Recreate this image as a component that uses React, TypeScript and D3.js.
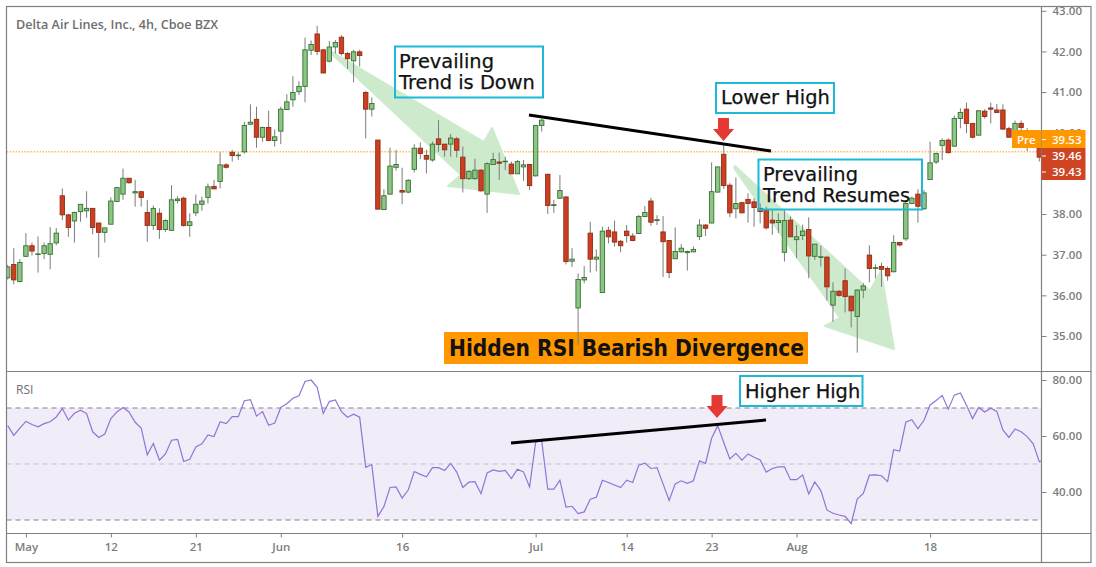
import * as d3 from "d3";
import { useEffect, useRef } from "react";

// candles, one row = 10 bars
const opens = [
  36.43, 36.76, 36.34, 36.96, 37.22, 37.01, 37.03, 37.01, 37.29, 38.45,
  37.98, 37.83, 38.06, 38.08, 38.14, 37.78, 37.55, 37.75, 38.31, 38.49,
  38.88, 38.52, 38.55, 38.04, 37.72, 38.02, 37.62, 37.60, 38.33, 38.39,
  37.72, 38.03, 38.24, 38.41, 38.68, 38.80, 39.21, 39.52, 39.44, 39.53,
  40.21, 40.33, 39.89, 40.13, 39.81, 40.04, 40.57, 40.81, 41.01, 41.14,
  42.03, 42.43, 42.04, 41.76, 42.11, 42.35, 41.95, 41.77, 41.99, 40.99,
  40.58, 39.82, 38.11, 38.49, 39.15, 38.58, 38.54, 39.10, 39.62, 39.44,
  39.33, 39.85, 39.72, 39.72, 39.85, 39.40, 38.87, 38.87, 39.08, 38.49,
  39.22, 39.28, 39.29, 39.23, 38.99, 39.16, 39.22, 38.94, 40.18, 38.98,
  38.21, 38.39, 38.42, 36.84, 35.69, 36.38, 37.53, 36.89, 36.07, 37.60,
  37.56, 37.33, 37.58, 37.46, 37.52, 37.94, 38.32, 37.84, 37.56, 37.35,
  36.90, 37.07, 37.05, 37.07, 37.45, 37.73, 37.78, 38.54, 39.47, 38.71,
  38.13, 38.28, 38.36, 38.30, 38.14, 38.10, 37.85, 37.79, 37.06, 37.85,
  37.37, 37.47, 37.62, 36.96, 36.94, 36.94, 35.76, 36.10, 36.36, 35.98,
  35.48, 36.13, 36.99, 36.66, 36.71, 36.66, 36.58, 37.30, 37.39, 38.26,
  38.49, 38.13, 38.85, 39.28, 39.69, 39.82, 39.67, 40.35, 40.58, 40.23,
  39.94, 40.53, 40.61, 40.56, 40.56, 40.10, 40.00, 40.23, 40.03, 39.78,
  39.62,
];
const highs = [
  36.75, 37.16, 36.89, 37.53, 37.30, 37.45, 37.30, 37.68, 37.66, 38.63,
  38.00, 38.06, 38.24, 38.56, 38.14, 37.78, 37.66, 38.41, 38.67, 39.12,
  38.89, 38.84, 38.57, 38.35, 38.21, 38.14, 37.87, 38.71, 38.44, 38.43,
  38.02, 38.48, 38.43, 38.75, 38.84, 39.52, 39.25, 39.58, 39.52, 40.27,
  40.70, 40.64, 40.15, 40.54, 40.08, 40.64, 40.95, 41.39, 41.27, 42.34,
  42.27, 42.63, 42.04, 42.26, 42.28, 42.40, 41.99, 42.04, 42.04, 41.03,
  40.87, 39.82, 38.61, 39.63, 39.58, 39.14, 38.86, 39.72, 39.76, 39.58,
  39.78, 40.31, 39.72, 39.97, 39.90, 39.66, 39.08, 39.36, 39.10, 39.27,
  39.51, 39.51, 39.41, 39.29, 39.33, 39.33, 39.22, 40.19, 40.35, 38.98,
  38.35, 38.96, 38.44, 37.16, 36.54, 36.72, 37.81, 37.13, 37.69, 37.69,
  37.84, 37.36, 37.73, 37.53, 37.98, 38.20, 38.40, 37.97, 37.95, 37.36,
  37.67, 37.26, 37.10, 37.20, 37.87, 37.75, 39.27, 39.16, 39.70, 38.76,
  38.90, 38.30, 38.51, 38.39, 38.26, 38.18, 38.10, 38.02, 38.10, 37.94,
  37.73, 37.74, 37.92, 37.26, 37.22, 36.97, 36.32, 36.13, 36.66, 35.98,
  36.15, 36.30, 37.23, 36.76, 36.80, 36.71, 37.48, 37.32, 38.30, 38.43,
  38.61, 38.59, 39.78, 39.51, 39.86, 39.86, 40.42, 40.60, 40.74, 40.23,
  40.56, 40.58, 40.74, 40.71, 40.70, 40.15, 40.30, 40.30, 40.11, 39.86,
  39.62,
];
const lows = [
  36.39, 36.27, 36.32, 36.95, 36.98, 36.56, 36.89, 36.64, 37.23, 37.85,
  37.44, 37.30, 37.81, 37.91, 37.50, 36.93, 37.30, 37.75, 38.31, 38.35,
  38.75, 38.18, 38.18, 37.32, 37.61, 37.39, 37.56, 37.59, 38.26, 37.69,
  37.44, 37.95, 38.08, 38.26, 38.61, 38.63, 39.12, 39.29, 39.33, 39.49,
  40.19, 39.63, 39.78, 39.80, 39.66, 39.72, 40.56, 40.64, 40.93, 40.75,
  41.91, 41.91, 41.47, 41.73, 41.95, 41.90, 41.57, 41.24, 41.63, 39.86,
  40.40, 38.12, 38.10, 38.49, 39.07, 38.24, 38.51, 39.02, 39.35, 39.00,
  39.29, 39.53, 39.41, 39.41, 39.39, 38.53, 38.84, 38.84, 38.55, 38.03,
  39.22, 38.84, 39.08, 38.99, 38.99, 38.82, 38.59, 38.92, 40.03, 38.00,
  38.03, 38.37, 36.76, 36.70, 34.78, 36.30, 36.56, 36.59, 36.07, 37.28,
  37.20, 37.06, 37.30, 37.33, 37.51, 37.92, 37.71, 37.73, 36.45, 36.42,
  36.89, 37.05, 36.61, 37.06, 37.36, 37.46, 37.77, 38.53, 38.62, 37.92,
  37.89, 38.02, 37.79, 37.69, 37.77, 37.62, 37.49, 37.53, 36.83, 37.44,
  36.91, 37.36, 36.42, 36.87, 36.71, 35.87, 35.35, 35.97, 35.58, 35.21,
  34.59, 35.93, 36.32, 36.42, 36.21, 36.36, 36.57, 37.20, 37.34, 38.25,
  37.79, 38.10, 38.84, 39.23, 39.33, 39.49, 39.66, 40.11, 39.99, 39.86,
  39.94, 40.35, 40.23, 40.48, 40.07, 39.88, 39.86, 39.99, 39.55, 39.62,
  39.29,
];
const closes = [
  36.70, 36.38, 36.81, 37.22, 37.09, 37.02, 37.22, 37.27, 37.53, 37.98,
  37.67, 38.04, 38.24, 38.14, 37.67, 37.55, 37.66, 38.32, 38.65, 38.88,
  38.77, 38.55, 38.41, 37.72, 38.14, 37.62, 37.84, 38.35, 38.37, 37.72,
  37.81, 38.24, 38.32, 38.67, 38.62, 39.21, 39.15, 39.44, 39.45, 40.18,
  40.26, 39.89, 40.13, 39.81, 39.90, 40.58, 40.76, 40.99, 41.14, 42.04,
  42.17, 42.00, 41.47, 42.11, 42.22, 41.95, 41.82, 41.99, 41.90, 40.58,
  40.72, 38.12, 38.45, 39.18, 39.22, 38.54, 38.83, 39.62, 39.49, 39.35,
  39.72, 39.71, 39.58, 39.87, 39.57, 38.87, 39.05, 39.08, 38.57, 39.24,
  39.34, 39.25, 39.30, 38.99, 39.29, 39.21, 38.70, 40.18, 40.31, 38.21,
  38.23, 38.58, 36.83, 36.89, 36.39, 36.44, 36.89, 36.94, 37.58, 37.44,
  37.31, 37.22, 37.47, 37.35, 37.94, 38.04, 37.80, 37.86, 37.32, 36.56,
  37.08, 37.16, 37.08, 37.13, 37.73, 37.65, 38.55, 39.16, 38.70, 38.03,
  38.26, 38.03, 38.26, 38.16, 38.06, 37.66, 37.78, 37.84, 37.84, 37.44,
  37.44, 37.58, 36.97, 37.26, 36.95, 36.21, 36.10, 36.00, 35.97, 35.62,
  36.13, 36.23, 36.66, 36.68, 36.64, 36.48, 37.30, 37.24, 38.26, 38.39,
  38.19, 38.52, 39.26, 39.49, 39.81, 39.51, 40.35, 40.50, 40.23, 39.89,
  40.54, 40.40, 40.58, 40.50, 40.09, 39.89, 40.23, 40.13, 39.78, 39.64,
  39.40,
];

const rsiValues = [
  63.7, 60.2, 62.8, 65.2, 64.1, 63.3, 64.4, 65.1, 66.8, 69.8,
  65.7, 68.1, 69.2, 68.0, 61.5, 59.5, 60.7, 66.2, 68.6, 70.2,
  68.6, 64.9, 62.8, 53.3, 57.3, 51.4, 53.6, 58.5, 58.8, 50.9,
  51.7, 56.1, 57.2, 60.4, 59.8, 65.1, 64.4, 66.9, 66.9, 72.6,
  73.0, 67.1, 68.7, 63.8, 64.6, 70.2, 71.5, 73.5, 74.4, 79.5,
  80.0, 77.4, 68.0, 72.3, 72.9, 68.7, 66.7, 67.8, 66.7, 48.8,
  49.8, 31.3, 34.8, 41.6, 41.8, 37.8, 40.7, 47.3, 46.3, 45.4,
  48.7, 48.7, 47.7, 50.2, 47.1, 41.6, 43.5, 43.7, 39.4, 46.8,
  47.9, 47.4, 47.7, 44.8, 48.1, 47.2, 41.8, 57.8, 58.3, 41.0,
  41.0, 44.2, 34.6, 34.9, 32.3, 32.9, 37.4, 38.1, 44.2, 43.4,
  42.5, 41.6, 44.2, 43.4, 49.6, 50.3, 48.4, 48.7, 42.9, 37.0,
  42.9, 44.0, 43.1, 44.0, 51.1, 50.2, 59.2, 63.7, 57.7, 51.8,
  53.8, 51.4, 53.6, 52.4, 51.4, 47.1, 48.4, 49.0, 49.0, 44.4,
  44.4, 46.1, 39.3, 43.6, 40.5, 33.6, 32.4, 31.8, 31.3, 28.7,
  37.5, 39.5, 46.0, 46.1, 45.8, 43.7, 55.1, 54.6, 64.9, 65.8,
  62.6, 65.6, 71.1, 72.7, 74.5, 69.6, 74.6, 75.4, 71.0, 66.2,
  70.2, 68.6, 69.9, 68.8, 62.2, 59.5, 62.5, 61.5, 59.8, 57.2,
  50.8, 51.7,
];

const priceTicks = [35, 36, 37, 38, 39, 40, 41, 42, 43];
const rsiTicks = [40, 60, 80];
const rsiLevels = [70, 50, 30];
const timeTickBars = [3, 17, 31, 45, 65, 87, 102, 116, 130, 152];
const timeTickLabels = ["May", "12", "21", "Jun", "16", "Jul", "14", "23", "Aug", "18"];

const lastPrice = 39.53;
const WIDTH = 1096;
const HEIGHT = 567;
const LEFT = 6.5;
const AXIS_X = 1041.5;
const RIGHT = 1091;
const TOP = 6.5;
const DIVIDER = 371.5;
const RSI_BOTTOM = 533.5;
const BOTTOM = 562.5;

const UP_FILL = "#8cc585";
const UP_LINE = "#35722f";
const DOWN_FILL = "#cd3f20";
const DOWN_LINE = "#8f2e17";
const ORANGE = "#ff9800";
const CYAN = "#1db9d6";
const ARROW_GREEN = "#cdeacd";
const RED = "#e53935";
const AXIS_FONT = "'Open Sans', sans-serif";
const NOTE_FONT = "'DejaVu Sans', sans-serif";

const x = d3.scaleLinear([0, 170], [7.7, 1039.3]);
const yPrice = d3.scaleLinear([35, 43], [336, 10.8]);
const yRsi = d3.scaleLinear([30, 80], [520, 380]);

function NoteBox({ box, lines }: { box: number[], lines: { text: string, x: number, y: number }[] }) {
  return (
    <g>
      <rect x={box[0]} y={box[1]} width={box[2] - box[0]} height={box[3] - box[1]}
        fill="none" stroke={CYAN} strokeWidth="2" />
      {lines.map((l, i) => (
        <text key={i} x={l.x} y={l.y} fontFamily={NOTE_FONT} fontSize="19.4" fill="#111"
          stroke="#111" strokeWidth="0.25">{l.text}</text>
      ))}
    </g>
  );
}

function RedArrow({ cx, top, tip }: { cx: number, top: number, tip: number }) {
  const neck = top + (tip - top) * 0.48;
  const pts: [number, number][] = [
    [cx - 5.5, top], [cx + 5.5, top], [cx + 5.5, neck], [cx + 10.5, neck],
    [cx, tip], [cx - 10.5, neck], [cx - 5.5, neck],
  ];
  return <path d={`${d3.line()(pts)}Z`} fill={RED} />;
}

export default function App() {
  const axisPrice: any = useRef();
  const axisRsi: any = useRef();
  const axisTime: any = useRef();

  useEffect(() => {
    const style = (g: any) => {
      g.select(".domain").remove();
      g.selectAll(".tick line").attr("stroke", "#808080");
      g.selectAll(".tick text")
        .attr("fill", "#7d7d7d")
        .attr("font-family", AXIS_FONT)
        .attr("font-size", 11.5)
        .attr("font-weight", 600);
    };
    d3.select(axisPrice.current)
      .call(d3.axisRight(yPrice).tickValues(priceTicks).tickFormat(d3.format(".2f") as any).tickSize(5).tickPadding(6) as any)
      .call(style);
    d3.select(axisRsi.current)
      .call(d3.axisRight(yRsi).tickValues(rsiTicks).tickFormat(d3.format(".2f") as any).tickSize(5).tickPadding(6) as any)
      .call(style);
    d3.select(axisTime.current)
      .call(d3.axisBottom(x).tickValues(timeTickBars)
        .tickFormat((_d: any, i: number) => timeTickLabels[i]).tickSize(4).tickPadding(5) as any)
      .call(style);
  }, []);

  const rsiLine = d3.line<number>()
    .x((_d, i) => x(i))
    .y(d => yRsi(d));

  return (
    <svg width={WIDTH} height={HEIGHT} style={{ position: "absolute", left: 0, top: 0 }}>
      <defs>
        <clipPath id="plot">
          <rect x={LEFT} y={TOP} width={AXIS_X - LEFT} height={BOTTOM - TOP} />
        </clipPath>
      </defs>
      <rect width={WIDTH} height={HEIGHT} fill="white" />

      {/* last price line */}
      <line x1={LEFT} x2={AXIS_X} y1={yPrice(lastPrice)} y2={yPrice(lastPrice)}
        stroke={ORANGE} strokeWidth="1" strokeDasharray="1.5 1.5" />

      {/* drawn-on trend arrows */}
      <g fill={ARROW_GREEN} stroke={ARROW_GREEN} strokeWidth="2" strokeLinejoin="round">
        <path d="M332,52 L484,142 L492,128 L519,194 L448,186 L461,175 L332,54 Z" />
        <path d="M735,166 L870,291 L881,271 L894,349 L825,326 L840,318 L734,168 Z" />
      </g>
      <rect x="444" y="332" width="364" height="32" fill={ORANGE} />

      <g clipPath="url(#plot)">
        {opens.map((open, i) => {
          const up = closes[i] >= open;
          const top = yPrice(Math.max(open, closes[i]));
          const bottom = yPrice(Math.min(open, closes[i]));
          return (
            <g key={i}>
              <line x1={x(i)} x2={x(i)} y1={yPrice(highs[i])} y2={yPrice(lows[i])}
                stroke="#7c7c7c" strokeWidth="1" />
              <rect x={x(i) - 2.2} y={top} width="4.4" height={Math.max(bottom - top, 0.6)}
                fill={up ? UP_FILL : DOWN_FILL} stroke={up ? UP_LINE : DOWN_LINE} strokeWidth="0.9" />
            </g>
          );
        })}

        {/* rsi pane */}
        <rect x={LEFT} width={AXIS_X - LEFT} y={yRsi(70)} height={yRsi(30) - yRsi(70)} fill="#f0ecf8" />
        {rsiLevels.map(level => (
          <line key={level} x1={LEFT} x2={AXIS_X} y1={yRsi(level)} y2={yRsi(level)}
            stroke={level === 50 ? "#c4bfcc" : "#85808e"} strokeWidth="1" strokeDasharray="5 4" />
        ))}
        <path d={rsiLine(rsiValues) as string} fill="none" stroke="#9274d6" strokeWidth="1.2" />
      </g>

      {/* frame */}
      <rect x={LEFT} y={TOP} width={RIGHT - LEFT} height={BOTTOM - TOP} fill="none" stroke="#808080" strokeWidth="1.2" />
      <line x1={AXIS_X} x2={AXIS_X} y1={TOP} y2={BOTTOM} stroke="#808080" strokeWidth="1.2" />
      <line x1={LEFT} x2={RIGHT} y1={DIVIDER} y2={DIVIDER} stroke="#808080" strokeWidth="1.2" />
      <line x1={LEFT} x2={RIGHT} y1={RSI_BOTTOM} y2={RSI_BOTTOM} stroke="#808080" strokeWidth="1.2" />

      <g ref={axisPrice} transform={`translate(${AXIS_X},0)`} />
      <g ref={axisRsi} transform={`translate(${AXIS_X},0)`} />
      <g ref={axisTime} transform={`translate(0,${RSI_BOTTOM})`} />

      <text x="16" y="29" fontFamily={AXIS_FONT} fontSize="12.6" fontWeight="600" fill="#6e6e6e">Delta Air Lines, Inc., 4h, Cboe BZX</text>
      <text x="16" y="394" fontFamily={AXIS_FONT} fontSize="12" fill="#6e6e6e">RSI</text>

      {/* notes */}
      <line x1="529" y1="115" x2="771" y2="151" stroke="#000" strokeWidth="3" />
      <line x1="511" y1="443" x2="766" y2="420" stroke="#000" strokeWidth="3" />
      <RedArrow cx={723.5} top={118} tip={141} />
      <RedArrow cx={717} top={395} tip={418} />
      <NoteBox box={[395, 46.5, 543, 97.5]} lines={[
        { text: "Prevailing", x: 399, y: 68 },
        { text: "Trend is Down", x: 399, y: 89 },
      ]} />
      <NoteBox box={[716, 83, 834, 113]} lines={[{ text: "Lower High", x: 721, y: 104 }]} />
      <NoteBox box={[758.5, 159.5, 922, 209.5]} lines={[
        { text: "Prevailing", x: 763, y: 181 },
        { text: "Trend Resumes", x: 763, y: 201.5 },
      ]} />
      <NoteBox box={[740, 376, 862.5, 406]} lines={[{ text: "Higher High", x: 745, y: 398 }]} />
      <text x="449" y="356" fontFamily="'DejaVu Sans Condensed', 'DejaVu Sans', sans-serif" fontSize="22.5" fontWeight="700" fill="#111">Hidden RSI Bearish Divergence</text>

      {/* price tags */}
      <rect x="1012" y="130" width="29" height="18" fill={ORANGE} />
      <rect x="1041.5" y="130" width="44" height="18" fill={ORANGE} />
      <rect x="1041.5" y="148" width="44" height="32" fill="#cf4422" />
      <g fontFamily={AXIS_FONT} fontSize="11.5" fontWeight="600" fill="white">
        <text x="1017" y="144">Pre</text>
        <text x="1052" y="144">39.53</text>
        <text x="1052" y="160">39.46</text>
        <text x="1052" y="176">39.43</text>
      </g>
      <g stroke="white" strokeWidth="1">
        <line x1="1042" x2="1046" y1="139.5" y2="139.5" />
        <line x1="1042" x2="1046" y1="156" y2="156" />
        <line x1="1042" x2="1046" y1="172" y2="172" />
      </g>
    </svg>
  );
}
